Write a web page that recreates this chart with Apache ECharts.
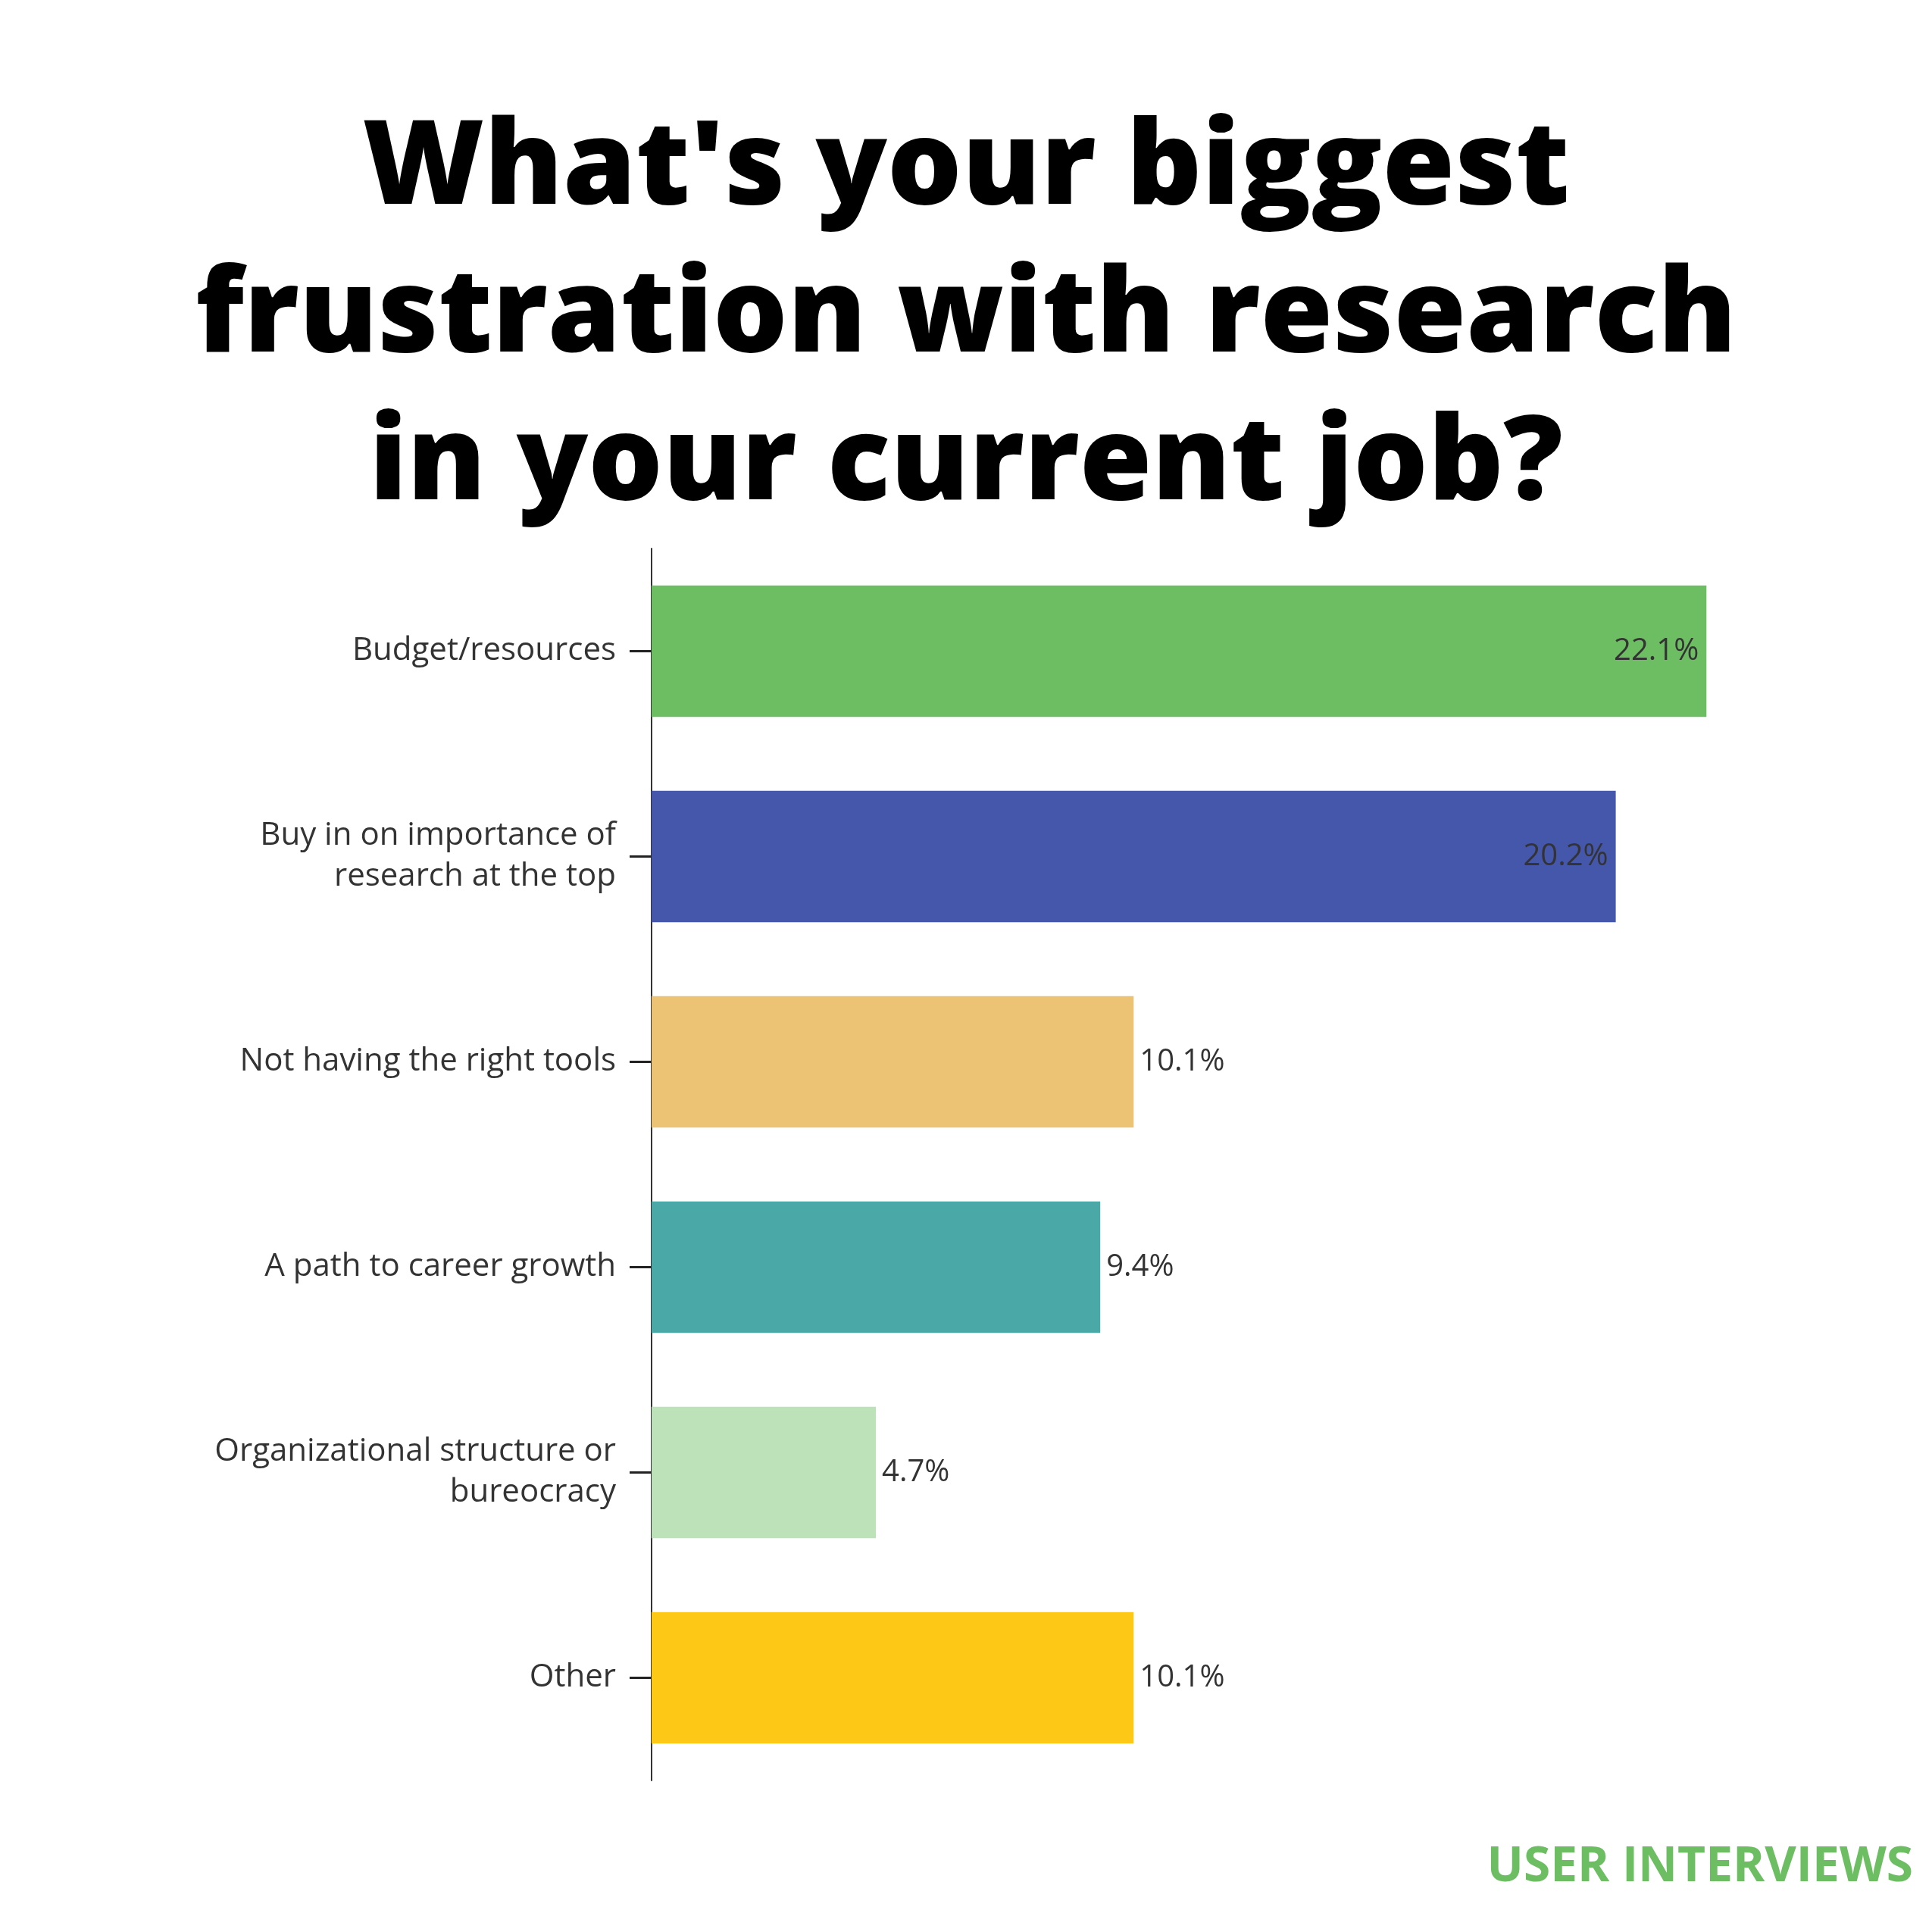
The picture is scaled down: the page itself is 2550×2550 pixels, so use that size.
<!DOCTYPE html>
<html>
<head>
<meta charset="utf-8">
<script src="https://cdn.jsdelivr.net/npm/echarts@6/dist/echarts.min.js"></script>
<style>
html,body{margin:0;padding:0;background:#fff;}
#c{width:2550px;height:2550px;}
</style>
</head>
<body>
<div id="c"></div>
<script>
const titleLines = ["What's your biggest", "frustration with research", "in your current job?"];
const categories = [
  "Budget/resources",
  "Buy in on importance of\nresearch at the top",
  "Not having the right tools",
  "A path to career growth",
  "Organizational structure or\nbureocracy",
  "Other"
];
const values = [22.1, 20.2, 10.1, 9.4, 4.7, 10.1];
const footerText = "USER INTERVIEWS";

const palette = ["#6dbe63", "#4457ab", "#ecc274", "#4aa9a6", "#bde2ba", "#fdc916"];

const chart = echarts.init(document.getElementById('c'), null, {renderer: 'canvas'});
const labelFont = "'Open Sans', 'Noto Sans', sans-serif";

chart.setOption({
  backgroundColor: '#ffffff',
  animation: false,
  title: [{
    text: titleLines.join('\n'),
    left: 'center',
    top: 122,
    textStyle: {
      fontFamily: "'Open Sans', 'Lato', sans-serif",
      fontWeight: 800,
      fontSize: 155,
      lineHeight: 195,
      color: '#000'
    }
  }, {
    text: footerText,
    right: 20,
    top: 2428,
    textStyle: {
      fontFamily: "'Open Sans', sans-serif",
      fontWeight: 700,
      fontSize: 64,
      color: '#6dbe63'
    }
  }],
  grid: {left: 860, top: 724, width: 1575, height: 1626},
  xAxis: {
    type: 'value', min: 0, max: 25,
    show: false
  },
  yAxis: {
    type: 'category',
    data: categories,
    inverse: true,
    axisLine: {show: true, lineStyle: {color: '#333', width: 2}},
    axisTick: {show: true, alignWithLabel: true, length: 29, lineStyle: {color: '#222', width: 3}},
    axisLabel: {
      margin: 47,
      fontFamily: labelFont,
      fontSize: 42,
      lineHeight: 54,
      color: '#333',
      align: 'right'
    }
  },
  series: [{
    type: 'bar',
    barCategoryGap: '36%',
    data: values.map((v, i) => ({
      value: v,
      itemStyle: {color: palette[i]},
      label: {position: v > 15 ? 'insideRight' : 'right', distance: v > 15 ? 10 : 8}
    })),
    label: {
      show: true,
      formatter: p => p.value.toFixed(1) + '%',
      fontFamily: labelFont,
      fontSize: 40,
      color: '#333'
    }
  }]
});
</script>
</body>
</html>
